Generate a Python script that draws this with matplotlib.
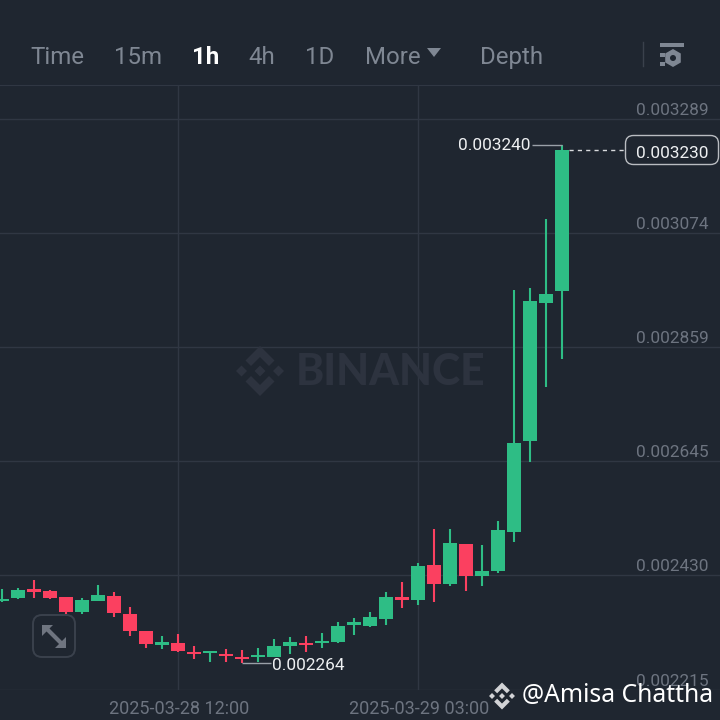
import matplotlib
matplotlib.use("Agg")
import matplotlib.pyplot as plt
from matplotlib.patches import FancyBboxPatch, Polygon, Rectangle, RegularPolygon, Circle
from matplotlib.transforms import ScaledTranslation
import numpy as np

# prices in millionths
body_top = [2385,2402,2404,2400,2389,2384,2392,2391,2358,2325,2304,2302,2286,2288,2282,2277,2280,2296,2304,2302,2306,2334,2342,2351,2390,2390,2447,2450,2491,2488,2439,2515,2679,2946,2960,3230]
body_bot = [2382,2388,2399,2388,2361,2360,2382,2359,2325,2300,2299,2288,2281,2284,2279,2273,2276,2276,2296,2298,2302,2305,2337,2335,2347,2384,2384,2414,2414,2429,2429,2438,2512,2683,2942,2965]
highs    = [2405,2407,2421,2402,2390,2387,2412,2399,2370,2326,2315,2320,2296,2288,2291,2289,2293,2310,2314,2316,2322,2343,2350,2361,2399,2417,2453,2517,2517,2488,2487,2532,2967,2971,3100,3240]
lows     = [2379,2386,2387,2385,2357,2357,2382,2352,2316,2294,2291,2286,2272,2266,2267,2264,2267,2276,2282,2285,2294,2303,2318,2332,2337,2368,2375,2380,2410,2400,2410,2435,2493,2643,2785,2837]
rising   = [1,1,0,0,0,1,1,0,0,0,1,0,0,1,0,0,1,1,1,0,1,1,1,1,1,0,1,0,1,0,1,1,1,1,1,1]
price_labels = ["0.003289","0.003074","0.002859","0.002645","0.002430","0.002215"]
time_positions = [11, 26]
time_labels = ["2025-03-28 12:00", "2025-03-29 03:00"]
tabs = ["Time","15m","1h","4h","1D","More","Depth"]
last_price = "0.003230"
high_label = "0.003240"
low_label = "0.002264"

BG="#1f2630"; GRID="#303743"; GREEN="#2ebd85"; RED="#fb4060"; MUTED="#6d7480"; TAB="#7f8793"
FONT="Roboto"
plt.rcParams['font.family']=FONT

fig=plt.figure(figsize=(7.2,7.2),dpi=100,facecolor=BG)
def px_rect(x0,y0,x1,y1):
    return [x0/720,1-y1/720,(x1-x0)/720,(y1-y0)/720]
ax=fig.add_axes(px_rect(0,85,720,690),facecolor=BG)

top=np.array(body_top)*1e-6; bot=np.array(body_bot)*1e-6
hi=np.array(highs)*1e-6; lo=np.array(lows)*1e-6
idx=np.arange(len(top))
cols=[GREEN if r else RED for r in rising]
ax.vlines(idx,lo,hi,colors=cols,linewidth=1.5,zorder=3)
ax.bar(idx,top-bot,bottom=bot,width=0.875,color=cols,zorder=4,linewidth=0)

ax.set_xlim(-1.5/16,718.5/16)
ax.set_ylim(2214.06e-6,3353.0e-6)
ax.set_yticks([float(s) for s in price_labels]); ax.set_yticklabels(price_labels)
ax.set_xticks(time_positions); ax.set_xticklabels(time_labels)
ax.yaxis.tick_right()
ax.tick_params(axis='y',length=0,pad=-60.5,labelsize=12.4,labelcolor=MUTED)
ax.tick_params(axis='x',length=0,pad=7,labelsize=13,labelcolor=MUTED)
off=ScaledTranslation(0,10/100,fig.dpi_scale_trans)
for t in ax.get_yticklabels():
    t.set_transform(t.get_transform()+off)
xoff=ScaledTranslation(1.5/100,0,fig.dpi_scale_trans)
for t in ax.get_xticklabels():
    t.set_transform(t.get_transform()+xoff)
ax.grid(True,color=GRID,linewidth=1,zorder=0)
ax.set_axisbelow(True)
for s in ['left','right','bottom']:
    ax.spines[s].set_visible(False)
ax.spines['top'].set_color(GRID)

# high / low / last annotations
i_hi=int(np.argmax(hi)); i_lo=int(np.argmin(lo))
ax.hlines(hi[i_hi],i_hi-1.85,i_hi,colors="#9aa0a8",linewidth=1,zorder=5)
ax.text(i_hi-1.93,hi[i_hi],high_label,color="#eef0f2",fontsize=12.4,ha='right',va='center',zorder=6)
ax.hlines(lo[i_lo],i_lo,i_lo+1.85,colors="#9aa0a8",linewidth=1,zorder=5)
t=ax.text(i_lo+1.9,lo[i_lo],low_label,color="#eef0f2",fontsize=12.4,ha='left',va='center',zorder=6)
t.set_transform(t.get_transform()+ScaledTranslation(0,-2/100,fig.dpi_scale_trans))
ax.hlines(top[-1],len(top)-1+0.45,len(top)-1+4,colors="#d8dadd",linewidth=1,linestyles=(0,(3,3)),zorder=5)

# overlay in pixel space for the chrome
ov=fig.add_axes([0,0,1,1],facecolor='none'); ov.set_xlim(0,720); ov.set_ylim(720,0); ov.axis('off')

ov.add_patch(FancyBboxPatch((625.5,135.5),93,29,boxstyle="round,pad=0,rounding_size=8",fc=BG,ec="#b9bcc1",lw=1))
ov.text(672,153,last_price,color="#eef0f2",fontsize=12.4,ha='center',va='center')

tab_x=[30,114,192,248,305,365,480]
for s,x in zip(tabs,tab_x):
    active=s=="1h"
    ov.text(x,64,s,color="#ffffff" if active else TAB,fontsize=17.3,ha='left',va='baseline',
            fontweight='bold' if active else 'normal')
ov.add_patch(Polygon([(427,48),(441,48),(434,57)],closed=True,fc=TAB,ec='none',joinstyle='round'))
ov.plot([642.5,642.5],[42,66],color="#3a414c",lw=1)
ov.add_patch(Rectangle((660,43),24,4,fc=TAB,ec='none'))
ov.add_patch(Rectangle((660,53),5,4,fc=TAB,ec='none'))
ov.add_patch(Rectangle((660,62),5,4,fc=TAB,ec='none'))
ov.add_patch(RegularPolygon((673,58),6,radius=9,fc=TAB,ec='none'))
ov.add_patch(Circle((673,58),3,fc=BG,ec='none'))

def logo(cx,cy,s,color,z=2):
    d=s/25.0
    def dm(x,y,r):
        return Polygon([(cx+x*d,cy+(y-r)*d),(cx+(x+r)*d,cy+y*d),(cx+x*d,cy+(y+r)*d),(cx+(x-r)*d,cy+y*d)],fc=color,ec='none',zorder=z)
    ov.add_patch(dm(0,0,5.5)); ov.add_patch(dm(-18.5,0,5.5)); ov.add_patch(dm(18.5,0,5.5))
    top=[(0,-25),(14.5,-10.5),(9,-5),(0,-14),(-9,-5),(-14.5,-10.5)]
    ov.add_patch(Polygon([(cx+x*d,cy+y*d) for x,y in top],fc=color,ec='none',zorder=z))
    ov.add_patch(Polygon([(cx+x*d,cy-y*d) for x,y in top],fc=color,ec='none',zorder=z))

logo(260,371,25,"#2d333f")
ov.text(296,372,"BINANCE",color="#2d333f",fontsize=30.7,fontweight='black',family='Lato',ha='left',va='center',zorder=2)

# expand icon
ov.add_patch(FancyBboxPatch((33,615),42,42,boxstyle="round,pad=0,rounding_size=9",fc='none',ec="#3a414c",lw=1.4))
ic="#6f7580"
ov.plot([47,61],[629,643],color=ic,lw=3,solid_capstyle='butt')
ov.add_patch(Polygon([(42,625),(53,625),(42,636)],fc=ic,ec='none'))
ov.add_patch(Polygon([(66,648),(55,648),(66,637)],fc=ic,ec='none'))

logo(502,696,13.5,"#d2d3d6",z=6)
ov.text(522,696,"@Amisa Chattha",color="#ffffff",fontsize=17.8,family='Noto Sans',ha='left',va='center',zorder=6)

fig.savefig("out.png",dpi=100,facecolor=BG)
